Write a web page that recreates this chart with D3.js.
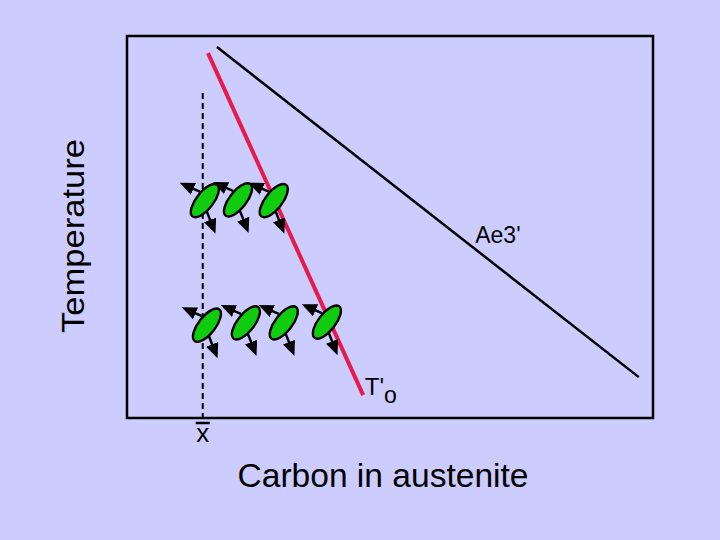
<!DOCTYPE html>
<html>
<head>
<meta charset="utf-8">
<script src="https://cdn.jsdelivr.net/npm/d3@7"></script>
<style>
  body { margin: 0; background: #ccccff; }
  svg { display: block; }
  text { font-family: "Liberation Sans", Arial, sans-serif; fill: #000; }
</style>
</head>
<body>
<svg></svg>
<script>
// schematic diagram, values in arbitrary units (0-100)
const carbonDomain = [0, 100];
const tempDomain = [0, 100];

const ae3Carbon = [17.1, 97.3];
const ae3Temp = [97.1, 10.7];

const t0Carbon = [15.4, 44.9];
const t0Temp = [95.5, 6.0];

const xBarCarbon = 14.4;
const xBarTemp = [85.1, 0];

const upperCarbon = [14.8, 21.1, 27.9];
const upperTemp = [56.9, 57.1, 56.9];
const lowerCarbon = [15.2, 22.6, 29.8, 38.0];
const lowerTemp = [24.3, 24.9, 24.9, 25.1];

const svgWidth = 720;
const svgHeight = 540;

const svg = d3
  .select("svg")
  .attr("width", svgWidth)
  .attr("height", svgHeight);

const x = d3.scaleLinear().domain(carbonDomain).range([127, 653]);
const y = d3.scaleLinear().domain(tempDomain).range([418, 36]);

svg.append("defs")
  .append("marker")
  .attr("id", "head")
  .attr("viewBox", "0 0 10 10")
  .attr("refX", 7)
  .attr("refY", 5)
  .attr("markerWidth", 15)
  .attr("markerHeight", 13)
  .attr("markerUnits", "userSpaceOnUse")
  .attr("preserveAspectRatio", "none")
  .attr("orient", "auto")
  .append("path")
  .attr("d", "M0,0 L10,5 L0,10 Z")
  .attr("fill", "#000");

// frame
svg.append("rect")
  .attr("x", x(carbonDomain[0]))
  .attr("y", y(tempDomain[1]))
  .attr("width", x(carbonDomain[1]) - x(carbonDomain[0]))
  .attr("height", y(tempDomain[0]) - y(tempDomain[1]))
  .attr("fill", "none")
  .attr("stroke", "#000")
  .attr("stroke-width", 2.5);

// x bar dashed line
svg.append("line")
  .attr("x1", x(xBarCarbon))
  .attr("x2", x(xBarCarbon))
  .attr("y1", y(xBarTemp[0]))
  .attr("y2", y(xBarTemp[1]))
  .attr("stroke", "#000")
  .attr("stroke-width", 2)
  .attr("stroke-dasharray", "6,4");

const line = d3.line().x(d => x(d[0])).y(d => y(d[1]));

svg.append("path")
  .attr("d", line(d3.zip(ae3Carbon, ae3Temp)))
  .attr("stroke", "#000")
  .attr("stroke-width", 2.5)
  .attr("fill", "none");

svg.append("path")
  .attr("d", line(d3.zip(t0Carbon, t0Temp)))
  .attr("stroke", "#e8194b")
  .attr("stroke-width", 4)
  .attr("fill", "none");

// grains with arrows
const grains = d3.zip(upperCarbon, upperTemp).concat(d3.zip(lowerCarbon, lowerTemp));

const g = svg.selectAll(".grain")
  .data(grains)
  .enter()
  .append("g")
  .attr("class", "grain")
  .attr("transform", d => "translate(" + x(d[0]) + "," + y(d[1]) + ")");

g.append("line")
  .attr("x1", -5).attr("y1", -9)
  .attr("x2", -21).attr("y2", -16)
  .attr("stroke", "#000").attr("stroke-width", 2.5)
  .attr("marker-end", "url(#head)");

g.append("line")
  .attr("x1", 2).attr("y1", 11)
  .attr("x2", 9).attr("y2", 29)
  .attr("stroke", "#000").attr("stroke-width", 2.5)
  .attr("marker-end", "url(#head)");

g.append("ellipse")
  .attr("rx", 20)
  .attr("ry", 8.5)
  .attr("transform", "rotate(-52)")
  .attr("fill", "#0fcc0f")
  .attr("stroke", "#000")
  .attr("stroke-width", 2.4);

// labels
svg.append("text")
  .attr("x", x(66.2))
  .attr("y", y(45.8))
  .attr("font-size", 23)
  .text("Ae3'");

const t0 = svg.append("text")
  .attr("x", x(45.2))
  .attr("y", y(t0Temp[1]))
  .attr("font-size", 24)
  .text("T'");
t0.append("tspan")
  .attr("dy", 8)
  .attr("font-size", 23)
  .text("o");

svg.append("text")
  .attr("x", x(xBarCarbon))
  .attr("y", 442)
  .attr("text-anchor", "middle")
  .attr("font-size", 26)
  .text("x");
svg.append("line")
  .attr("x1", x(xBarCarbon) - 7)
  .attr("x2", x(xBarCarbon) + 7)
  .attr("y1", 423)
  .attr("y2", 423)
  .attr("stroke", "#000")
  .attr("stroke-width", 2.5);

svg.append("text")
  .attr("x", 383)
  .attr("y", 487)
  .attr("text-anchor", "middle")
  .attr("font-size", 33.5)
  .attr("textLength", 291)
  .attr("lengthAdjust", "spacingAndGlyphs")
  .text("Carbon in austenite");

svg.append("text")
  .attr("transform", "translate(84,236) rotate(-90)")
  .attr("text-anchor", "middle")
  .attr("font-size", 31)
  .attr("textLength", 194)
  .attr("lengthAdjust", "spacingAndGlyphs")
  .text("Temperature");
</script>
</body>
</html>
